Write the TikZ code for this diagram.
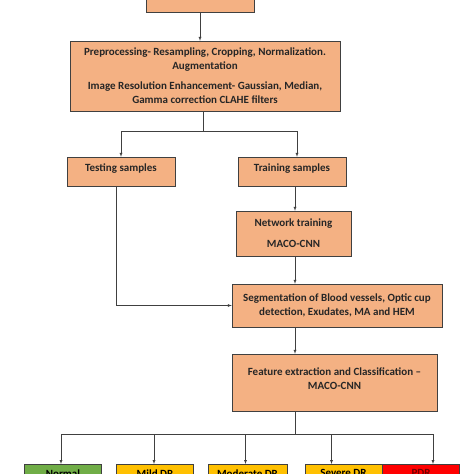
\documentclass[tikz,border=0pt]{standalone}
\usepackage{fontspec}
\setmainfont{Carlito}
\usetikzlibrary{arrows, positioning}
\definecolor{peach}{HTML}{F4B183}
\definecolor{leaf}{HTML}{70AD47}
\definecolor{amber}{HTML}{FFC000}
\definecolor{edgegray}{HTML}{404040}

\begin{document}
\begin{tikzpicture}[x=1pt, y=-1pt, font=\bfseries\fontsize{11}{14}\selectfont]
\tikzstyle{stage}=[draw=edgegray, fill=peach, align=center, inner sep=2pt, text=black!85]
\tikzstyle{grade}=[draw=edgegray, anchor=north, minimum width=77, minimum height=18, inner sep=1pt]
\clip (0,0) rectangle (474,474);
\fill[white] (0,0) rectangle (474,474);

\node[stage, minimum width=108, minimum height=34] (input) at (200,-5) {};
\node[stage, minimum width=270, minimum height=70] (pre) at (205,76)
  {Preprocessing- Resampling, Cropping, Normalization.\\ Augmentation\\[6pt]
   Image Resolution Enhancement- Gaussian, Median,\\ Gamma correction CLAHE filters};
\node[stage, minimum width=108, minimum height=29] (testing) at (121,171.5) {Testing samples\\[-7pt]};
\node[stage, minimum width=108, minimum height=29] (training) at (292,171.5) {Training samples\\[-7pt]};
\node[stage, minimum width=115, minimum height=45] (net) at (293.5,233.5) {Network training\\[7pt] MACO-CNN};
\node[stage, minimum width=210, minimum height=43] (seg) at (337,305.5)
  {Segmentation of Blood vessels, Optic cup\\ detection, Exudates, MA and HEM};
\node[stage, minimum width=205, minimum height=57] (feat) at (334.5,382.5)
  {Feature extraction and Classification --\\ MACO-CNN\\[-6pt]};

\node[grade, fill=leaf] (normal) at (63,464) {Normal};
\node[grade, fill=amber] (mild) at (155,464) {Mild DR};
\node[grade, fill=amber, minimum width=79] (moderate) at (247.5,464) {Moderate DR};
\node[grade, fill=amber] (severe) at (343.5,464) {Severe DR};
\node[grade, fill=red, text=red!45!black] (pdr) at (421,464) {PDR};

\coordinate (axis) at (295,0);
\coordinate (fork) at (203,131);
\coordinate (bus) at (295,434);

\draw[-latex, edgegray] (input.south) -- (input.south |- pre.north);
\draw[edgegray] (fork |- pre.south) -- (fork);
\draw[-latex, edgegray] (fork) -| (testing.north);
\draw[-latex, edgegray] (fork) -| ([xshift=5pt]training.north);
\draw[-latex, edgegray] (axis |- training.south) -- (axis |- net.north);
\draw[-latex, edgegray] (axis |- net.south) -- (axis |- seg.north);
\draw[-latex, edgegray] ([xshift=-5pt]testing.south) |- (seg.west);
\draw[-latex, edgegray] (axis |- seg.south) -- (axis |- feat.north);
\draw[edgegray] (axis |- feat.south) -- (bus);
\draw[-latex, edgegray] (bus) -| ([xshift=-2pt]normal.north);
\draw[-latex, edgegray] (bus) -| ([xshift=-1pt]mild.north);
\draw[-latex, edgegray] (bus) -| ([xshift=-2pt]moderate.north);
\draw[-latex, edgegray] (bus) -| ([xshift=-12pt]severe.north);
\draw[-latex, edgegray] (bus) -| ([xshift=12pt]pdr.north);
\end{tikzpicture}
\end{document}
